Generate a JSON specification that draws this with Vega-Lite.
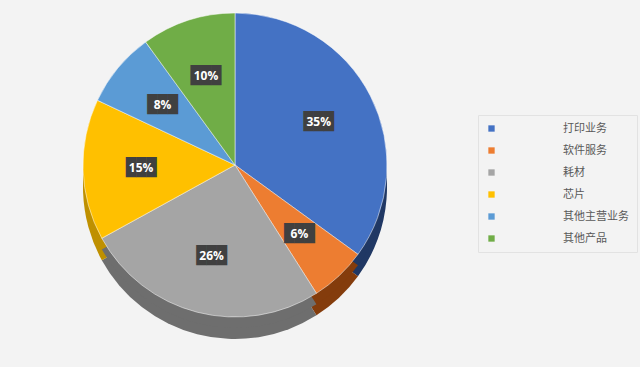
{
  "$schema": "https://vega.github.io/schema/vega-lite/v6.json",
  "width": 470,
  "height": 330,
  "autosize": {"type": "none"},
  "padding": {"left": 0, "top": 0, "right": 170, "bottom": 37},
  "background": "#f3f3f3",
  "config": {"view": {"stroke": null}},
  "data": {
    "values": [
      {"cat": "打印业务", "value": 0.35, "rank": 1},
      {"cat": "软件服务", "value": 0.06, "rank": 2},
      {"cat": "耗材", "value": 0.26, "rank": 3},
      {"cat": "芯片", "value": 0.15, "rank": 4},
      {"cat": "其他主营业务", "value": 0.08, "rank": 5},
      {"cat": "其他产品", "value": 0.10, "rank": 6}
    ]
  },
  "encoding": {
    "theta": {"field": "value", "type": "quantitative", "stack": true},
    "order": {"field": "rank", "type": "quantitative"}
  },
  "layer": [
    {
      "mark": {"type": "arc", "outerRadius": 152, "yOffset": 22},
      "encoding": {
        "color": {"field": "cat", "type": "nominal",
          "scale": {"domain": ["打印业务", "软件服务", "耗材", "芯片", "其他主营业务", "其他产品"],
                    "range": ["#203864", "#843c0c", "#6e6e6e", "#bf9000", "#2e75b6", "#507e32"]},
          "legend": null}
      }
    },
    {
      "mark": {"type": "arc", "outerRadius": 152, "yOffset": 11},
      "encoding": {
        "color": {"field": "cat", "type": "nominal",
          "scale": {"domain": ["打印业务", "软件服务", "耗材", "芯片", "其他主营业务", "其他产品"],
                    "range": ["#203864", "#843c0c", "#6e6e6e", "#bf9000", "#2e75b6", "#507e32"]},
          "legend": null}
      }
    },
    {
      "mark": {"type": "arc", "outerRadius": 152, "stroke": "#ffffff", "strokeWidth": 0.5},
      "encoding": {
        "color": {"field": "cat", "type": "nominal",
          "scale": {"domain": ["打印业务", "软件服务", "耗材", "芯片", "其他主营业务", "其他产品"],
                    "range": ["#4472c4", "#ed7d31", "#a5a5a5", "#ffc000", "#5b9bd5", "#70ad47"]},
          "legend": {
            "title": null,
            "orient": "none",
            "legendX": 478,
            "legendY": 115,
            "symbolType": "square",
            "symbolSize": 40,
            "symbolStrokeWidth": 0,
            "labelOffset": 66,
            "labelFont": "Noto Sans CJK SC",
            "labelFontSize": 11,
            "labelColor": "#595959",
            "rowPadding": 10,
            "padding": 8,
            "strokeColor": "#e2e2e2"
          }
        }
      }
    },
    {
      "mark": {"type": "text", "radius": 94, "font": "DejaVu Sans Mono", "fontSize": 17, "fill": "#404040", "text": "███", "baseline": "middle"}
    },
    {
      "mark": {"type": "text", "radius": 94, "font": "Open Sans", "fontSize": 12, "fontWeight": "bold", "fill": "#ffffff", "baseline": "middle"},
      "encoding": {"text": {"field": "value", "type": "quantitative", "format": ".0%"}}
    }
  ],
  "resolve": {"scale": {"color": "independent"}}
}
